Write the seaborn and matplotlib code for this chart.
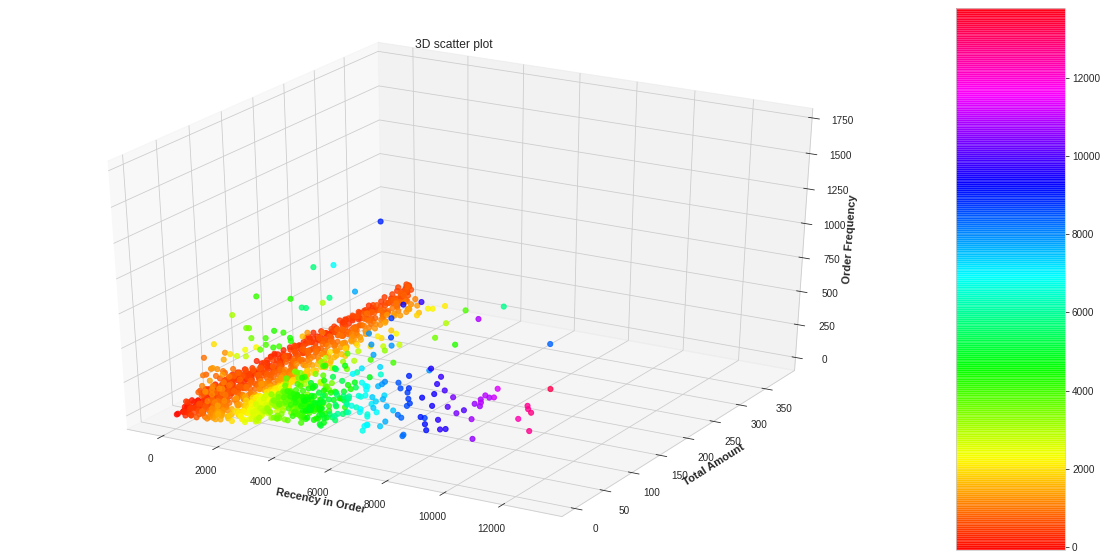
"""
plot.py

3D scatter of recency, amount and order frequency.
"""

import numpy as np
import seaborn as sns
import matplotlib.pyplot as plt

# long band close to the recency = 0 wall
band_recency = [
    60, 210, 120, 420, 90, 340, 190, 520, 70, 610,
    250, 700, 130, 480, 300, 880, 80, 590, 400, 760,
    150, 650, 240, 530, 110, 820, 360, 460, 170, 690,
    95, 720, 310, 440, 210, 600, 140, 900, 380, 520,
    260, 640, 120, 470, 330, 780, 180, 560, 90, 410,
    230, 690, 350, 510, 150, 850, 280, 430, 100, 620,
    190, 570, 320, 740, 130, 490, 260, 660, 80, 390,
    210, 610, 340, 800, 160, 450, 290, 700, 110, 530,
    240, 650, 370, 500, 140, 760, 300, 420, 90, 580,
    170, 630, 280, 720, 120, 460, 350, 540, 200, 670,
    100, 590, 310, 780, 150, 430, 250, 640, 70, 510,
    220, 680, 330, 470, 130, 560, 270, 730, 90, 400,
    180, 620, 300, 490, 110, 700, 240, 540, 60, 360,
    160, 590, 280, 440, 90, 650, 210, 500, 120, 330,
    70, 480, 230, 560, 140, 390, 260, 610, 100, 300,
    180, 520, 50, 420, 240, 570, 120, 340, 200, 460,
    80, 500, 150, 380, 220, 530, 60, 310, 170, 440,
    110, 400, 190, 470, 70, 280, 130, 350, 210, 420,
    60, 240, 150, 330, 90, 260, 40, 190, 120, 300,
    70, 210, 100, 160, 50, 130, 80, 200, 40, 110,
]
band_amount = [
    2, 5, 9, 4, 12, 7, 15, 3, 18, 11,
    21, 14, 25, 17, 29, 24, 33, 20, 37, 27,
    41, 31, 45, 36, 49, 40, 53, 44, 57, 47,
    61, 52, 65, 56, 69, 60, 73, 64, 77, 68,
    81, 72, 85, 76, 89, 80, 93, 84, 97, 88,
    101, 92, 105, 96, 109, 100, 113, 104, 117, 108,
    121, 112, 125, 116, 129, 120, 133, 124, 137, 128,
    141, 132, 145, 136, 149, 140, 153, 144, 157, 148,
    161, 152, 165, 156, 169, 160, 173, 164, 177, 168,
    181, 172, 185, 176, 189, 180, 193, 184, 197, 188,
    201, 192, 205, 196, 209, 200, 213, 204, 217, 208,
    221, 212, 225, 216, 229, 220, 233, 224, 237, 228,
    241, 232, 245, 236, 249, 240, 253, 244, 257, 248,
    261, 252, 265, 256, 269, 260, 273, 264, 277, 268,
    281, 272, 285, 276, 289, 280, 293, 284, 297, 288,
    301, 292, 305, 296, 309, 300, 313, 304, 317, 308,
    321, 312, 325, 316, 329, 320, 333, 324, 337, 328,
    341, 332, 345, 336, 349, 340, 353, 344, 357, 348,
    361, 352, 365, 356, 369, 360, 373, 364, 377, 368,
    381, 372, 385, 376, 389, 380, 392, 384, 395, 387,
]
band_freq = [
    12, 30, 8, 22, 40, 15, 55, 18, 25, 35,
    20, 10, 45, 60, 15, 25, 35, 50, 12, 70,
    28, 18, 62, 40, 75, 14, 30, 85, 50, 20,
    35, 12, 70, 25, 88, 45, 16, 30, 60, 22,
    50, 18, 80, 32, 14, 40, 65, 24, 90, 36,
    20, 48, 70, 15, 58, 26, 92, 38, 12, 66,
    44, 20, 76, 30, 14, 54, 84, 28, 62, 18,
    36, 72, 16, 46, 88, 24, 56, 12, 78, 34,
    22, 60, 40, 82, 18, 50, 26, 70, 14, 44,
    64, 30, 86, 20, 52, 38, 16, 74, 28, 58,
    42, 18, 68, 32, 90, 24, 50, 12, 76, 36,
    20, 56, 40, 84, 28, 62, 14, 46, 72, 30,
    52, 22, 78, 38, 16, 60, 34, 88, 24, 48,
    30, 66, 14, 54, 80, 26, 42, 18, 70, 36,
    58, 20, 86, 32, 50, 12, 64, 28, 44, 74,
    24, 56, 16, 82, 38, 30, 60, 20, 48, 68,
    34, 14, 72, 42, 26, 56, 18, 80, 36, 22,
    62, 30, 46, 12, 76, 40, 24, 54, 16, 68,
    38, 50, 22, 60, 14, 44, 70, 28, 34, 18,
    48, 26, 58, 36, 64, 20, 72, 40, 55, 30,
]

# second pass over the band, mostly the red core
core_recency = [
    40, 150, 280, 90, 360, 200, 60, 450, 120, 310,
    180, 30, 260, 540, 100, 390, 70, 220, 650, 140,
    50, 330, 170, 480, 90, 240, 600, 40, 290, 130,
    410, 70, 190, 520, 110, 350, 30, 230, 690, 160,
    80, 300, 440, 50, 210, 570, 120, 380, 60, 270,
    150, 500, 40, 340, 100, 630, 200, 70, 420, 250,
    30, 180, 470, 90, 320, 140, 560, 60, 230, 400,
    110, 280, 50, 510, 170, 80, 360, 620, 130, 40,
    260, 90, 440, 190, 30, 330, 120, 580, 70, 220,
    380, 50, 160, 490, 100, 300, 40, 240, 540, 140,
    60, 340, 200, 30, 420, 110, 270, 80, 600, 170,
    50, 390, 130, 310, 40, 230, 520, 90, 180, 70,
    290, 30, 450, 150, 60, 360, 100, 250, 40, 560,
    120, 200, 70, 410, 30, 170, 320, 90, 50, 270,
    140, 480, 60, 220, 110, 30, 350, 180, 80, 430,
    40, 260, 130, 70, 510, 190, 50, 300, 100, 30,
]
core_amount = [
    1, 6, 3, 10, 8, 13, 16, 6, 19, 12,
    23, 26, 20, 16, 30, 24, 34, 28, 22, 38,
    42, 33, 46, 29, 50, 39, 35, 54, 44, 58,
    48, 62, 52, 43, 66, 56, 70, 60, 49, 74,
    78, 64, 59, 82, 68, 55, 86, 72, 90, 76,
    94, 69, 98, 80, 102, 75, 106, 110, 84, 114,
    118, 88, 79, 122, 92, 126, 83, 130, 96, 100,
    134, 104, 138, 91, 142, 146, 108, 95, 150, 154,
    112, 158, 116, 162, 166, 120, 170, 103, 174, 124,
    128, 178, 132, 115, 182, 136, 186, 140, 119, 190,
    194, 144, 198, 202, 148, 206, 152, 210, 127, 214,
    218, 156, 222, 160, 226, 164, 135, 230, 168, 234,
    172, 238, 176, 242, 246, 180, 250, 184, 254, 145,
    258, 188, 262, 192, 266, 270, 196, 274, 278, 200,
    282, 205, 286, 215, 290, 294, 225, 298, 302, 235,
    306, 245, 310, 314, 255, 318, 322, 265, 326, 330,
]
core_freq = [
    8, 20, 34, 14, 46, 10, 28, 60, 18, 38,
    12, 52, 24, 72, 16, 42, 32, 8, 56, 22,
    66, 14, 40, 30, 78, 12, 48, 26, 62, 18,
    36, 84, 10, 54, 28, 70, 16, 44, 34, 92,
    20, 58, 12, 38, 76, 24, 50, 14, 88, 30,
    42, 18, 68, 10, 36, 60, 22, 82, 14, 46,
    28, 74, 12, 40, 56, 18, 32, 96, 10, 50,
    24, 64, 36, 16, 78, 44, 20, 54, 12, 70,
    30, 86, 14, 42, 60, 22, 38, 10, 74, 26,
    52, 16, 34, 90, 12, 46, 66, 20, 32, 56,
    14, 80, 24, 44, 10, 62, 28, 38, 18, 72,
    36, 12, 54, 22, 84, 30, 16, 48, 64, 10,
    42, 26, 70, 14, 34, 56, 20, 92, 12, 40,
    60, 18, 30, 76, 24, 46, 10, 52, 36, 16,
    68, 28, 14, 44, 58, 20, 34, 82, 12, 26,
    50, 16, 62, 38, 10, 30, 72, 22, 46, 14,
]

# orange orders on the lower side of the band
thick_recency = [
    520, 810, 1090, 640, 930, 1160, 570, 860, 1020, 700,
    980, 1210, 610, 890, 1130, 540, 770, 1050, 680, 950,
    1180, 590, 840, 1100, 720, 1000, 560, 900, 1140, 650,
    790, 1070, 530, 960, 1190, 620, 870, 1030, 740, 1110,
    580, 820, 1060, 670, 940, 1170, 550, 780, 1010, 710,
    990, 600, 880, 1120, 630, 850, 1080, 510, 920, 1150,
    690, 970, 560, 830, 1040, 730, 1090, 610, 900, 760,
    540, 1000, 660, 860, 1130, 590, 810, 950, 700, 1060,
    520, 880, 1020, 640, 780, 1110, 570, 930, 680, 840,
    990, 530, 750, 1070, 620, 910, 710, 550, 820, 960,
]
thick_amount = [
    3, 8, 12, 16, 20, 24, 28, 32, 36, 40,
    44, 48, 52, 56, 60, 64, 68, 72, 76, 80,
    84, 88, 92, 96, 100, 104, 108, 112, 116, 120,
    124, 128, 132, 136, 140, 144, 148, 152, 156, 160,
    164, 168, 172, 176, 180, 184, 188, 192, 196, 200,
    204, 208, 212, 216, 220, 224, 228, 232, 236, 240,
    244, 248, 252, 256, 260, 264, 268, 272, 276, 280,
    284, 288, 292, 296, 300, 304, 308, 312, 316, 320,
    324, 328, 332, 336, 340, 344, 348, 352, 356, 360,
    364, 368, 372, 26, 58, 94, 130, 170, 210, 250,
]
thick_freq = [
    14, 40, 22, 8, 52, 30, 12, 44, 18, 60,
    26, 6, 36, 16, 48, 10, 32, 20, 56, 12,
    38, 24, 8, 46, 16, 30, 62, 10, 22, 42,
    14, 34, 8, 50, 18, 28, 10, 58, 20, 36,
    12, 44, 24, 8, 32, 16, 54, 10, 28, 40,
    14, 22, 48, 8, 30, 18, 36, 60, 12, 26,
    42, 10, 20, 34, 8, 52, 16, 28, 12, 38,
    24, 8, 46, 18, 30, 10, 22, 56, 14, 36,
    10, 26, 8, 40, 16, 32, 20, 12, 44, 24,
    10, 18, 34, 50, 42, 28, 36, 20, 14, 30,
]

# red and orange orders along the floor
floor_recency = [
    310, 520, 740, 980, 420, 1150, 630, 860, 1320, 380,
    700, 1040, 490, 1210, 570, 920, 1430, 340, 810, 1090,
    450, 1270, 660, 960, 1380, 530, 770, 1160, 400, 1490,
    610, 880, 1330, 720, 1020, 470, 1240, 580, 840, 1110,
    360, 1410, 680, 930, 1190, 510, 790, 1300, 430, 1060,
    640, 1360, 560, 900, 1220, 750, 1000, 1450, 620, 1130,
]
floor_amount = [
    3, 8, 2, 5, 14, 1, 11, 6, 3, 22,
    18, 9, 28, 4, 24, 15, 2, 33, 21, 12,
    38, 7, 30, 19, 5, 43, 27, 14, 48, 4,
    36, 24, 10, 41, 20, 54, 13, 46, 32, 18,
    60, 8, 50, 28, 16, 66, 37, 12, 72, 23,
    56, 15, 78, 42, 22, 62, 34, 11, 84, 30,
]
floor_freq = [
    6, 24, 12, 18, 40, 22, 8, 52, 30, 15,
    46, 10, 28, 60, 14, 36, 26, 55, 20, 68,
    12, 42, 74, 32, 50, 18, 84, 24, 38, 62,
    16, 70, 44, 10, 92, 30, 56, 80, 22, 48,
    34, 66, 14, 76, 26, 58, 40, 98, 20, 52,
    72, 28, 36, 88, 18, 60, 44, 30, 24, 82,
]

# orange to yellow orders filling the gap under the band
fill_recency = [
    420, 760, 1100, 1380, 1650, 1920, 2180, 2420, 580, 900,
    1240, 1520, 1790, 2050, 2300, 480, 840, 1170, 1450, 1710,
    1980, 2240, 640, 960, 1310, 1590, 1860, 2120, 2370, 530,
    880, 1210, 1490, 1750, 2010, 2270, 700, 1030, 1350, 1630,
    1900, 2160, 450, 790, 1130, 1410, 1680, 1950, 2210, 610,
    930, 1270, 1550, 1820, 2080, 2330, 560, 870, 1190, 1470,
    1730, 2000, 2250, 680, 1000, 1330, 1610, 1880, 2140, 500,
    820, 1150, 1430, 1700, 1960, 2220, 620, 950, 1290, 1570,
    1840, 2100, 2350, 540, 860, 1220, 1500, 1770, 2030, 2280,
    720, 1060, 1370, 1640, 1910, 2170, 470, 800, 1120, 1400,
    1660, 1930, 2190, 590, 910, 1250, 1530, 1800, 2060, 2310,
    660, 980, 1320, 1600, 1870, 2130, 510, 850, 1180, 1460,
    1720, 1990, 2260, 690, 1010, 1340, 1620, 1890, 2150, 440,
    780, 1140, 1420, 1690, 1970, 2230, 630, 940, 1280, 1560,
    1830, 2090, 550, 890, 1200, 1480, 1740, 2020, 730, 1050,
]
fill_amount = [
    18, 34, 26, 52, 14, 40, 22, 30, 70, 60,
    44, 66, 36, 24, 46, 92, 78, 58, 84, 50,
    32, 62, 108, 96, 72, 90, 54, 28, 68, 124,
    112, 86, 102, 74, 42, 56, 138, 120, 94, 110,
    64, 38, 150, 132, 104, 118, 80, 48, 76, 164,
    144, 116, 126, 88, 58, 34, 176, 156, 128, 134,
    98, 70, 44, 188, 168, 136, 142, 106, 52, 200,
    180, 146, 152, 114, 78, 60, 212, 192, 158, 160,
    122, 66, 40, 224, 204, 170, 166, 130, 84, 50,
    236, 216, 178, 172, 100, 72, 248, 228, 186, 182,
    138, 90, 56, 260, 240, 196, 148, 112, 64, 36,
    272, 252, 206, 154, 120, 82, 284, 264, 214, 190,
    162, 94, 46, 296, 276, 222, 174, 128, 74, 308,
    288, 232, 198, 140, 68, 54, 320, 300, 242, 184,
    144, 88, 332, 312, 254, 208, 132, 76, 268, 226,
]
fill_freq = [
    22, 48, 14, 66, 30, 84, 52, 108, 38, 16,
    72, 26, 96, 44, 120, 18, 58, 34, 12, 80,
    40, 100, 28, 62, 10, 46, 90, 56, 132, 36,
    20, 74, 14, 50, 112, 70, 30, 12, 42, 24,
    94, 60, 44, 18, 8, 34, 64, 104, 82, 26,
    10, 52, 16, 76, 38, 128, 36, 14, 6, 28,
    58, 88, 54, 20, 8, 40, 12, 68, 46, 30,
    12, 6, 22, 48, 92, 70, 18, 10, 32, 8,
    56, 36, 110, 24, 6, 14, 42, 20, 78, 62,
    16, 8, 26, 10, 50, 34, 28, 12, 6, 18,
    44, 86, 58, 14, 6, 22, 8, 66, 40, 118,
    20, 10, 4, 30, 12, 54, 24, 8, 16, 6,
    38, 74, 96, 12, 6, 18, 10, 48, 30, 20,
    8, 4, 14, 60, 36, 84, 16, 6, 12, 8,
    42, 26, 10, 4, 8, 16, 52, 68, 6, 10,
]

# orange and yellow orders close to the start of the cloud
gap_recency = [
    820, 1130, 1420, 1710, 2010, 2330, 950, 1260, 1550, 1840,
    2140, 2450, 880, 1190, 1480, 1770, 2070, 2390, 1010, 1320,
    1610, 1900, 2200, 2510, 760, 1070, 1360, 1650, 1950, 2270,
    1150, 1440, 1730, 2030, 2350, 900, 1210, 1500, 1790, 2090,
    2410, 1040, 1340, 1630, 1920, 2220, 2530, 790, 1100, 1390,
    1680, 1970, 2290, 970, 1280, 1570, 1860, 2160, 2470, 850,
    1170, 1460, 1750, 2050, 2370, 1080, 1380, 1660, 1940, 2240,
    2550, 740, 1050, 1340, 1620, 1910, 2210, 1230, 1520, 1810,
    2110, 2430, 920, 1240, 1530, 1820, 2120, 2440, 1120, 1410,
    1690, 1990, 2310, 810, 1140, 1430, 1720, 2020, 2340, 1000,
    1300, 1590, 1880, 2180, 2490, 870, 1200, 1490, 1780, 2080,
    2400, 1060, 1350, 1640, 1930, 2230, 2540, 770, 1090, 1370,
    1670, 1960, 2280, 1180, 1470, 1760, 2060, 2380, 940, 1270,
    1560, 1850, 2150, 2460, 830, 1160, 1450, 1740, 2040, 2360,
    1020, 1330, 1600, 1890, 2190, 2500, 990, 1310, 1580, 1870,
]
gap_amount = [
    8, 12, 6, 10, 14, 9, 18, 22, 16, 20,
    13, 17, 28, 32, 26, 24, 19, 25, 38, 42,
    34, 30, 27, 21, 48, 52, 44, 40, 33, 29,
    60, 54, 46, 37, 23, 68, 64, 56, 50, 41,
    31, 76, 70, 62, 53, 45, 35, 86, 80, 72,
    66, 57, 39, 94, 88, 78, 69, 49, 28, 104,
    96, 84, 74, 58, 43, 112, 100, 90, 79, 61,
    36, 122, 108, 98, 83, 65, 47, 116, 102, 87,
    71, 44, 132, 118, 106, 92, 63, 30, 126, 110,
    95, 67, 40, 142, 124, 114, 82, 59, 26, 134,
    120, 99, 77, 51, 33, 150, 130, 105, 85, 55,
    24, 140, 115, 93, 73, 48, 37, 158, 128, 109,
    89, 60, 42, 136, 111, 91, 64, 32, 148, 125,
    101, 81, 54, 22, 156, 138, 113, 75, 52, 35,
    144, 119, 97, 70, 46, 27, 128, 107, 86, 68,
]
gap_freq = [
    30, 14, 52, 24, 68, 42, 10, 36, 18, 60,
    28, 84, 22, 8, 44, 16, 72, 34, 12, 26,
    6, 48, 20, 90, 40, 10, 30, 14, 56, 24,
    18, 8, 38, 12, 76, 26, 6, 20, 46, 16,
    62, 14, 34, 8, 28, 50, 96, 22, 6, 16,
    40, 12, 66, 10, 24, 6, 32, 18, 80, 8,
    20, 36, 12, 54, 28, 6, 14, 44, 8, 22,
    70, 12, 4, 26, 10, 38, 16, 8, 30, 6,
    48, 24, 10, 4, 18, 8, 60, 34, 6, 12,
    28, 14, 74, 8, 4, 16, 6, 42, 88, 10,
    20, 6, 32, 14, 58, 6, 4, 12, 24, 46,
    64, 8, 18, 6, 36, 16, 78, 4, 10, 22,
    8, 50, 26, 6, 14, 4, 40, 68, 8, 16,
    6, 28, 12, 82, 4, 10, 20, 6, 44, 30,
    8, 14, 4, 34, 18, 92, 6, 12, 24, 8,
]

# yellow part of the floor cloud
yellow_recency = [
    1520, 1740, 1980, 2210, 2430, 1610, 1860, 2090, 2320, 2560,
    1680, 1920, 2150, 2390, 2620, 1570, 1800, 2040, 2270, 2500,
    1650, 1890, 2120, 2360, 2590, 1710, 1950, 2180, 2410, 2660,
    1540, 1770, 2010, 2240, 2470, 1630, 1840, 2070, 2300, 2530,
    1590, 1830, 2060, 2280, 2520, 1700, 1940, 2160, 2380, 2610,
    1560, 1790, 2030, 2260, 2490, 1660, 1900, 2130, 2350, 2580,
]
yellow_amount = [
    6, 11, 4, 9, 5, 20, 15, 13, 18, 10,
    31, 24, 29, 14, 21, 42, 36, 33, 27, 16,
    52, 45, 38, 30, 25, 63, 55, 47, 35, 12,
    74, 66, 58, 41, 28, 85, 73, 62, 48, 19,
    96, 80, 70, 54, 32, 104, 88, 76, 60, 23,
    110, 92, 82, 65, 37, 100, 78, 68, 50, 26,
]
yellow_freq = [
    18, 42, 30, 64, 38, 26, 70, 48, 92, 56,
    14, 52, 84, 36, 110, 32, 60, 96, 44, 72,
    20, 66, 40, 120, 88, 24, 50, 104, 62, 34,
    16, 46, 78, 130, 58, 28, 74, 54, 100, 140,
    22, 68, 36, 90, 150, 30, 56, 112, 82, 46,
    12, 44, 94, 70, 160, 26, 86, 60, 124, 76,
]

# lime and green part of the floor cloud
green_recency = [
    2710, 2880, 3050, 3220, 3390, 3560, 3730, 3900, 4070, 4240,
    2760, 2930, 3100, 3270, 3440, 3610, 3780, 3950, 4120, 4290,
    2690, 2860, 3030, 3200, 3370, 3540, 3710, 3880, 4050, 4220,
    2820, 2990, 3160, 3330, 3500, 3670, 3840, 4010, 4180, 4350,
    2740, 2910, 3080, 3250, 3420, 3590, 3760, 3930, 4100, 4410,
    2850, 3020, 3190, 3360, 3530, 3700, 3870, 4040, 4210, 4480,
    2790, 2960, 3130, 3300, 3470, 3640, 3810, 3980, 4150, 4550,
    2900, 3070, 3240, 3410, 3580, 3750, 3920, 4090, 4260, 4620,
    2830, 3000, 3170, 3340, 3510, 3680, 3850, 4020, 4330, 4700,
    2950, 3120, 3290, 3460, 3630, 3800, 3970, 4140, 4450, 4780,
    3030, 3210, 3380, 3550, 3720, 3890, 4060, 4230, 4520, 4860,
    3150, 3320, 3490, 3660, 3830, 4000, 4170, 4380, 4650, 4950,
]
green_amount = [
    14, 8, 20, 11, 26, 6, 18, 30, 9, 22,
    28, 36, 12, 42, 16, 34, 24, 12, 44, 16,
    45, 22, 52, 30, 10, 48, 38, 20, 28, 54,
    18, 60, 34, 24, 58, 14, 46, 32, 18, 26,
    66, 40, 28, 70, 36, 22, 60, 42, 12, 34,
    30, 74, 46, 16, 62, 32, 26, 54, 38, 14,
    80, 50, 18, 44, 72, 24, 52, 16, 64, 30,
    36, 84, 56, 28, 40, 68, 20, 48, 26, 12,
    92, 42, 60, 76, 22, 50, 34, 70, 18, 28,
    54, 30, 88, 38, 62, 14, 44, 24, 36, 20,
    72, 48, 26, 80, 34, 56, 18, 40, 16, 24,
    40, 64, 32, 22, 50, 28, 36, 20, 30, 14,
]
green_freq = [
    36, 82, 58, 130, 44, 110, 160, 70, 140, 92,
    60, 24, 150, 48, 190, 74, 118, 210, 36, 170,
    28, 120, 66, 176, 98, 40, 142, 228, 84, 52,
    104, 46, 210, 88, 30, 250, 62, 126, 196, 154,
    78, 164, 32, 116, 232, 56, 90, 146, 268, 72,
    138, 38, 184, 96, 54, 260, 108, 68, 220, 132,
    50, 100, 240, 64, 34, 202, 86, 280, 44, 114,
    172, 42, 124, 290, 76, 58, 236, 94, 148, 198,
    26, 156, 82, 40, 262, 106, 178, 60, 244, 128,
    112, 214, 36, 166, 72, 300, 102, 222, 136, 80,
    48, 134, 254, 30, 190, 88, 276, 158, 206, 120,
    182, 66, 216, 272, 110, 234, 140, 248, 168, 92,
]

# greener orders further out and higher up
upper_green_recency = [
    2560, 2980, 3340, 3720, 4120, 4480, 4860, 5240, 2740, 3120,
    3500, 3880, 4260, 4640, 5020, 5400, 2880, 3260, 3640, 4020,
    4400, 4780, 5160, 2620, 3040, 3420, 3800, 4180, 4560, 4940,
    5320, 2800, 3180, 3560, 3940, 4320, 4700, 5080, 3000, 3380,
    3760, 4140, 4520, 4900, 5280, 2680, 3100, 3480, 3860, 4240,
    4620, 5000, 5380, 2920, 3300, 3680, 4060, 4440, 4820, 5200,
]
upper_green_amount = [
    62, 48, 76, 34, 58, 28, 44, 20, 88, 66,
    42, 72, 24, 50, 16, 36, 96, 54, 82, 38,
    64, 26, 46, 104, 70, 30, 90, 56, 18, 40,
    22, 112, 60, 86, 32, 74, 24, 52, 78, 100,
    44, 68, 20, 38, 14, 118, 58, 92, 36, 80,
    28, 48, 18, 84, 108, 40, 62, 26, 34, 30,
]
upper_green_freq = [
    84, 240, 160, 300, 210, 330, 260, 150, 130, 280,
    190, 350, 250, 180, 310, 220, 100, 320, 140, 270,
    370, 230, 120, 70, 200, 340, 110, 290, 380, 170,
    240, 90, 260, 150, 360, 120, 300, 200, 220, 80,
    330, 170, 280, 390, 190, 60, 310, 130, 250, 100,
    210, 340, 140, 180, 110, 270, 160, 320, 230, 290,
]

# more of the dense green part
dense_green_recency = [
    2620, 2840, 3010, 3180, 3350, 3520, 3690, 3860, 4030, 4200,
    2670, 2890, 3060, 3230, 3400, 3570, 3740, 3910, 4080, 4250,
    2730, 2940, 3110, 3280, 3450, 3620, 3790, 3960, 4130, 4300,
    2780, 2990, 3160, 3330, 3500, 3670, 3840, 4010, 4180, 4370,
    2650, 2870, 3040, 3210, 3380, 3550, 3720, 3890, 4060, 4430,
    2700, 2920, 3090, 3260, 3430, 3600, 3770, 3940, 4110, 4500,
    2750, 2970, 3140, 3310, 3480, 3650, 3820, 3990, 4160, 4570,
    2810, 3020, 3190, 3360, 3530, 3700, 3870, 4040, 4270, 4640,
]
dense_green_amount = [
    24, 40, 16, 50, 30, 12, 44, 22, 56, 34,
    52, 18, 38, 26, 62, 20, 48, 32, 14, 42,
    30, 58, 24, 44, 16, 54, 28, 64, 36, 18,
    68, 32, 50, 20, 40, 72, 26, 46, 22, 38,
    36, 76, 28, 60, 18, 42, 34, 14, 52, 24,
    20, 48, 66, 34, 56, 24, 40, 30, 16, 44,
    44, 26, 58, 14, 70, 36, 22, 50, 28, 32,
    60, 38, 18, 46, 30, 64, 16, 42, 26, 20,
]
dense_green_freq = [
    50, 88, 122, 64, 150, 96, 178, 132, 74, 206,
    38, 104, 68, 146, 44, 196, 90, 164, 226, 118,
    76, 32, 138, 86, 184, 60, 216, 100, 154, 238,
    42, 112, 56, 174, 124, 36, 204, 82, 250, 142,
    92, 30, 160, 52, 230, 108, 72, 264, 128, 186,
    114, 66, 40, 192, 94, 242, 136, 78, 276, 58,
    62, 148, 46, 210, 34, 126, 258, 84, 170, 222,
    54, 116, 200, 70, 244, 48, 286, 102, 158, 234,
]

# orange orders rising above the start of the band
bump_recency = [
    340, 620, 890, 450, 730, 1040, 380, 560, 980, 300,
    680, 820, 490, 1110, 410, 760, 600, 930, 350, 540,
    1000, 470, 710, 860, 320, 640, 1070, 430, 790, 520,
    280, 590, 840, 430, 710, 960, 360, 650, 910, 510,
    270, 770, 470, 1020, 390, 620, 880, 330, 550, 740,
    1060, 440, 690, 300, 810, 530, 940, 370, 660, 480,
]
bump_amount = [
    4, 12, 7, 22, 16, 5, 34, 28, 18, 44,
    38, 25, 52, 10, 62, 46, 70, 30, 78, 58,
    20, 84, 64, 42, 90, 74, 32, 96, 54, 104,
    9, 18, 14, 28, 24, 11, 40, 35, 22, 50,
    56, 32, 66, 16, 72, 48, 38, 82, 68, 44,
    26, 92, 60, 100, 52, 86, 36, 110, 76, 118,
]
bump_freq = [
    110, 170, 240, 150, 290, 210, 130, 260, 190, 100,
    230, 320, 170, 280, 120, 250, 150, 310, 105, 200,
    345, 135, 220, 180, 115, 160, 270, 125, 190, 110,
    90, 130, 175, 105, 145, 120, 95, 165, 200, 115,
    85, 125, 140, 160, 100, 135, 110, 90, 155, 120,
    180, 95, 115, 85, 130, 105, 150, 80, 110, 90,
]

# wide blob at the far end of the band
tip_recency = [
    90, 280, 470, 150, 360, 560, 60, 230, 420, 620,
    120, 310, 510, 190, 390, 80, 260, 450, 170, 340,
]
tip_amount = [
    362, 358, 352, 368, 364, 348, 374, 370, 360, 344,
    380, 376, 356, 384, 372, 388, 382, 366, 392, 378,
]
tip_freq = [
    70, 30, 52, 14, 84, 24, 96, 44, 18, 60,
    28, 74, 36, 56, 12, 88, 20, 66, 40, 104,
]

# single orders read one by one
single_recency = [
    7340, 6580, 8610, 1730, 1795, 1806, 3433, 5304, 9860, 2660,
    3290, 4010, 7926, 12624, 12125, 12148, 12267, 11919, 12291, 10719,
    10465, 10398, 10677, 10391, 10500, 10343, 10226, 9867, 9355, 9169,
    9117, 8995, 8915, 7387, 8374, 7944, 8075, 8363, 8207, 8812,
    8340, 8282, 8202, 9067, 9557, 9615, 9977, 10408, 9350, 8754,
    8410, 8900, 8942, 9417, 9337, 10359, 8112, 8119, 7970, 8086,
    7446, 7196, 6800, 6646, 6800, 7350, 7211, 6736, 7061, 7205,
    6934, 6989, 6761, 6913, 7458, 7377, 7111, 6045, 6719, 6600,
    5800, 4502, 6436, 4505, 4236, 5174, 4179, 4723, 6421, 6541,
    6458, 6567, 6511, 6330, 6229, 5386, 5670, 5224, 5593, 4963,
    5810, 6369, 6119, 4108, 5501, 6044, 6681, 6609, 6369, 6474,
    3571, 3730, 2727, 3390, 2579, 7101, 2994, 2508, 2532, 7148,
    7080, 7026, 1755, 1719, 7777, 1903, 1507, 1792, 1630, 1546,
    1350, 954, 846, 8211, 7800, 3157, 3353, 4530, 5670, 2272,
    4901, 4730, 4832, 2275, 2750, 2847, 2916, 3308, 3550, 3488,
    3717, 1425, 583, 864, 1521, 1886, 1800, 2184, 2295, 1089,
    3099, 3260, 3565, 3387, 3648, 1273, 893, 650, 608, 1586,
    1625, 1709, 2648, 2939, 2639, 3787, 3188, 3486, 2891, 3221,
    5012, 4283, 6796, 5760, 5768, 4616, 3935, 4395, 4408, 2825,
]
single_amount = [
    7, 0, 10, 379, 345, 353, 334, 311, 42, 336,
    286, 287, 264, 25, 12, 12, 11, 7, 7, 32,
    24, 34, 28, 20, 15, 21, 18, 0, 11, 14,
    10, 11, 10, 80, 0, 3, 0, 0, 5, 0,
    0, 5, 4, 4, 6, 30, 0, 4, 0, 0,
    23, 0, 0, 0, 13, 8, 2, 0, 0, 0,
    4, 7, 5, 4, 0, 11, 28, 23, 3, 12,
    13, 5, 14, 28, 4, 3, 9, 63, 31, 7,
    36, 116, 0, 91, 92, 62, 99, 63, 15, 15,
    22, 15, 16, 17, 18, 32, 28, 44, 31, 52,
    18, 0, 19, 92, 25, 9, 0, 2, 25, 20,
    161, 192, 172, 131, 186, 0, 212, 232, 259, 30,
    4, 0, 245, 224, 0, 283, 293, 256, 270, 337,
    350, 346, 354, 0, 0, 0, 44, 29, 9, 143,
    36, 0, 2, 0, 0, 0, 0, 5, 8, 25,
    25, 6, 25, 46, 26, 34, 55, 8, 17, 34,
    5, 7, 5, 22, 29, 153, 178, 214, 293, 209,
    208, 178, 128, 108, 139, 73, 87, 86, 146, 137,
    38, 86, 4, 5, 0, 34, 28, 28, 15, 6,
]
single_freq = [
    1640, 1150, 1130, 0, 60, 41, 133, 285, 985, 0,
    28, 0, 210, 640, 533, 510, 492, 444, 372, 549,
    511, 468, 495, 489, 484, 436, 456, 533, 534, 617,
    573, 494, 675, 433, 626, 553, 525, 537, 488, 488,
    460, 413, 394, 429, 437, 355, 423, 388, 350, 346,
    267, 300, 258, 283, 250, 233, 186, 181, 330, 314,
    250, 197, 195, 150, 200, 339, 261, 241, 336, 383,
    353, 406, 325, 359, 538, 520, 480, 392, 550, 593,
    464, 182, 564, 204, 172, 264, 122, 214, 464, 444,
    420, 418, 373, 353, 353, 282, 302, 232, 276, 185,
    272, 331, 262, 0, 174, 247, 319, 289, 206, 206,
    168, 78, 101, 279, 135, 799, 94, 60, 9, 722,
    716, 874, 0, 57, 875, 14, 0, 52, 0, 17,
    0, 0, 0, 1120, 1010, 990, 880, 1180, 1280, 585,
    963, 970, 966, 825, 750, 753, 684, 687, 742, 687,
    658, 569, 392, 390, 453, 480, 445, 508, 488, 377,
    596, 633, 630, 591, 623, 274, 229, 136, 99, 5,
    67, 113, 224, 253, 122, 340, 225, 228, 163, 142,
    450, 331, 200, 235, 232, 50, 37, 77, 177, 69,
]

color_ticks = [0, 2000, 4000, 6000, 8000, 10000, 12000]


def main():
    sns.set_style("whitegrid")
    plt.rcParams["font.family"] = ["Liberation Sans", "DejaVu Sans"]

    recency = np.array(
        band_recency + core_recency + thick_recency + floor_recency
        + fill_recency + gap_recency + yellow_recency + green_recency
        + upper_green_recency + dense_green_recency + bump_recency
        + tip_recency + single_recency, dtype=float)
    amount = np.array(
        band_amount + core_amount + thick_amount + floor_amount
        + fill_amount + gap_amount + yellow_amount + green_amount
        + upper_green_amount + dense_green_amount + bump_amount
        + tip_amount + single_amount, dtype=float)
    freq = np.array(
        band_freq + core_freq + thick_freq + floor_freq
        + fill_freq + gap_freq + yellow_freq + green_freq
        + upper_green_freq + dense_green_freq + bump_freq
        + tip_freq + single_freq, dtype=float)

    fig = plt.figure(figsize=(1106 / 72, 560 / 72), dpi=72)
    ax = fig.add_axes([0.03, 0.0455, 0.763, 0.918], projection="3d")
    # let the cube stretch with the axes instead of staying square
    ax.apply_aspect = lambda position=None: None
    ax.set_box_aspect((1, 1, 1))

    sctt = ax.scatter(
        recency, amount, freq,
        c=recency + amount + freq,
        cmap="hsv",
        vmin=-77,
        vmax=13790,
        alpha=0.8,
        s=26,
        marker="o",
    )

    ax.set_xlim(-1280, 14000, view_margin=0)
    ax.set_ylim(-22, 408, view_margin=0)
    ax.set_zlim(-100, 1815, view_margin=0)
    ax.set_xticks([0, 2000, 4000, 6000, 8000, 10000, 12000])
    ax.set_yticks([0, 50, 100, 150, 200, 250, 300, 350])
    ax.set_zticks([0, 250, 500, 750, 1000, 1250, 1500, 1750])
    ax.tick_params(labelsize=10)
    ax.tick_params(axis="x", pad=8)
    ax.tick_params(axis="y", pad=8)
    ax.tick_params(axis="z", pad=8)

    ax.set_xlabel("Recency in Order", fontweight="bold", fontsize=11)
    ax.set_ylabel("Total Amount", fontweight="bold", fontsize=11)
    ax.set_zlabel("Order Frequency", fontweight="bold", fontsize=11)
    ax.set_title("3D scatter plot", fontsize=12, x=0.499, y=1.017)

    cax = fig.add_axes([956 / 1106, 1 - 550 / 560, 109 / 1106, 542 / 560])
    cbar = fig.colorbar(sctt, cax=cax, ticks=color_ticks)
    cbar.solids.set_edgecolor("face")
    cbar.ax.tick_params(labelsize=10)

    plt.savefig("out.png", dpi=72)


if __name__ == "__main__":
    main()
